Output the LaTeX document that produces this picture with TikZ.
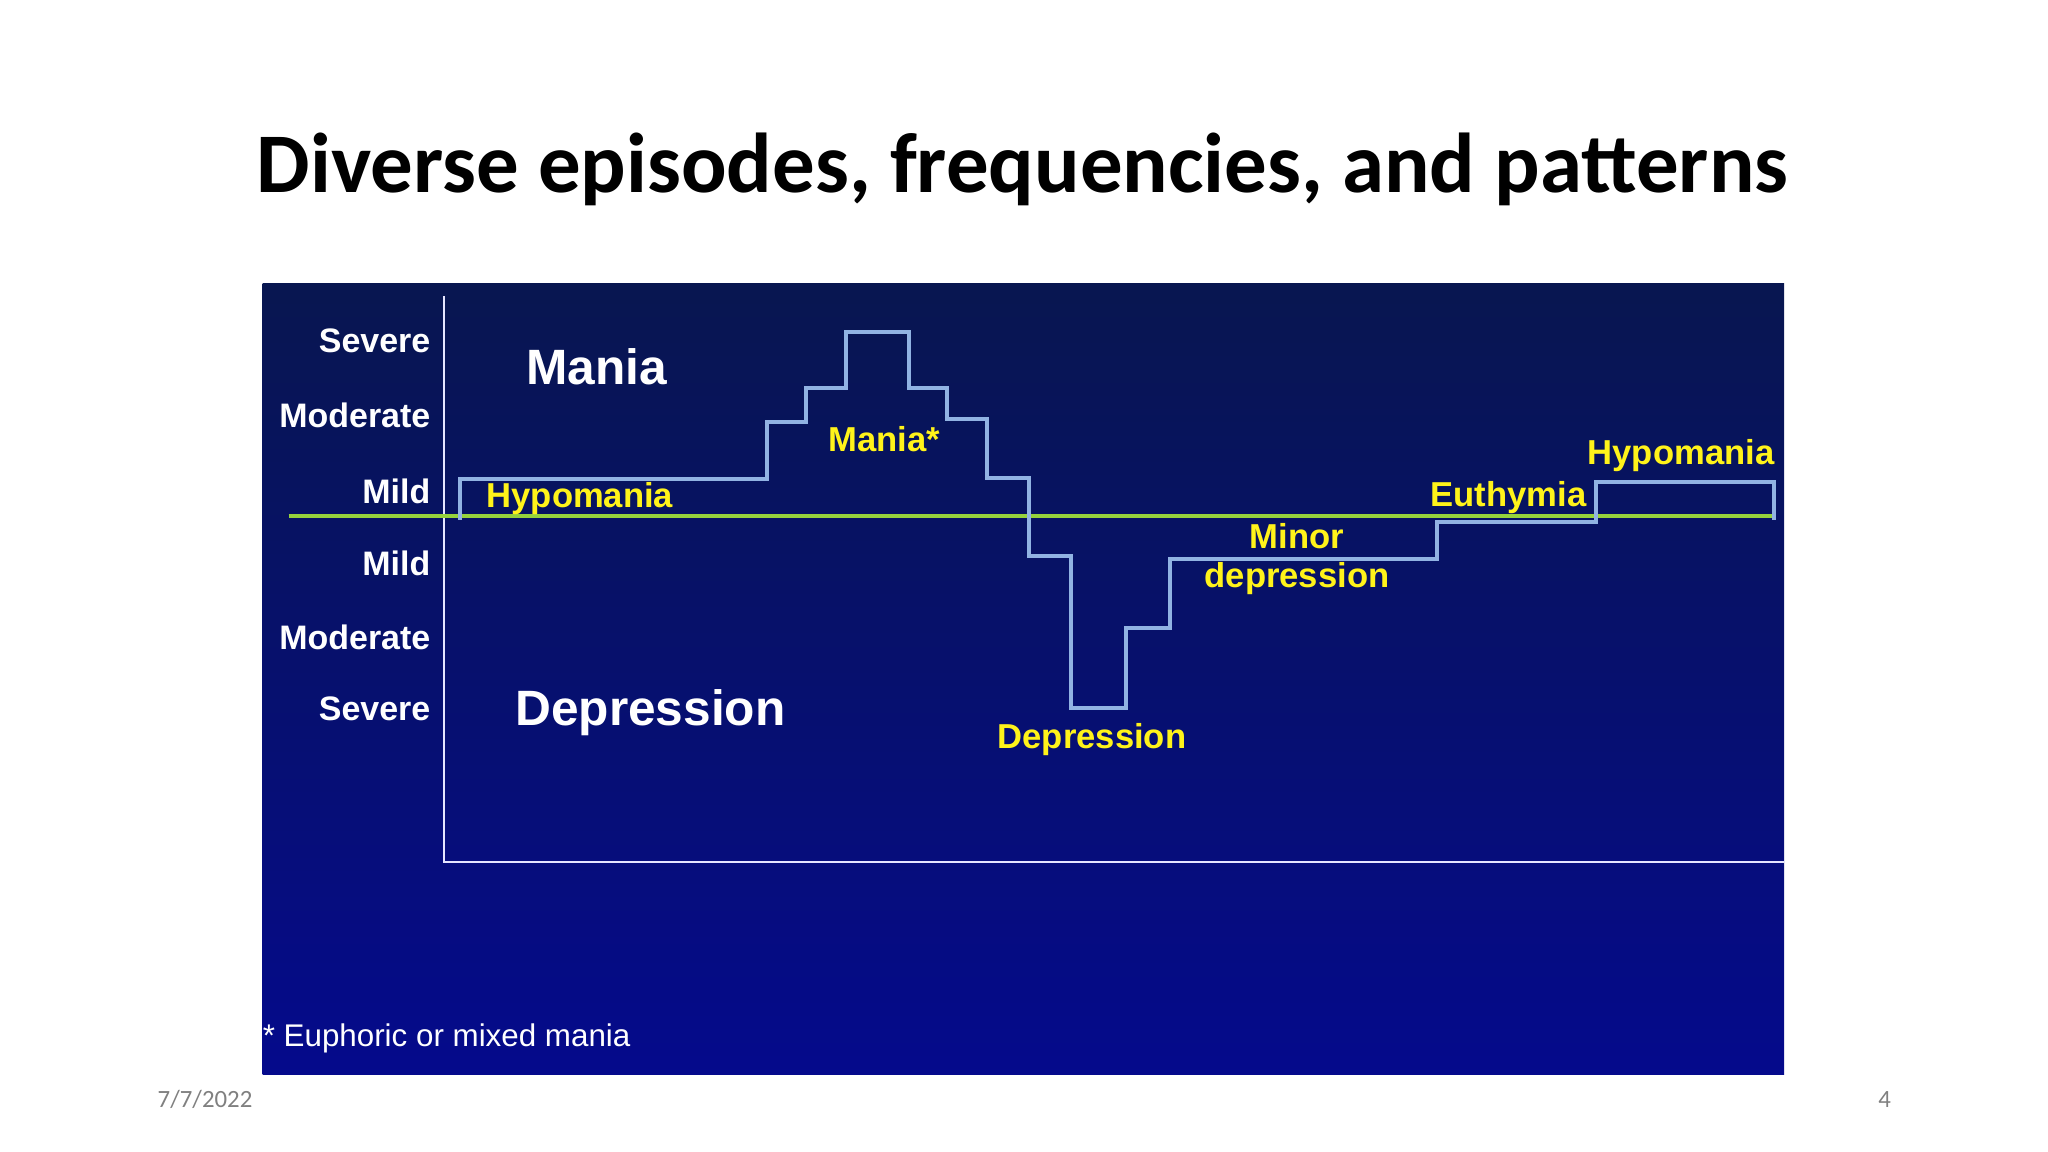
\documentclass[tikz,border=0pt]{standalone}
\usepackage{fontspec}
\setmainfont{Carlito}
\newfontfamily\arl{Liberation Sans}
\begin{document}
\begin{tikzpicture}[x=1pt,y=-1pt,
  ylab/.style={anchor=east,text=white,font=\arl\bfseries\fontsize{26}{26}\selectfont},
  big/.style={text=white,font=\arl\bfseries\fontsize{38}{38}\selectfont},
  ylw/.style={text=yellow!90!white,font=\arl\bfseries\fontsize{26.5}{26.5}\selectfont,inner sep=0pt},
  trace/.style={draw=cyan!30!white!80!blue,line width=3pt},
  ax/.style={draw=white!90!blue,line width=2pt}]
\useasboundingbox (0,0) rectangle (1568,882);
\node (title) at (783,130) {\fontsize{65}{65}\selectfont\bfseries Diverse episodes, frequencies, and patterns};
\shade[top color={rgb,255:red,8;green,22;blue,80}, bottom color={rgb,255:red,5;green,10;blue,140}] (201,217) rectangle (1366,823);
\draw[ax] (340,227) -- (340,660) -- (1366,660);
\draw[draw={rgb,255:red,150;green,210;blue,60},line width=2.5pt] (221,395) -- (1358,395);
\draw[trace,line join=miter] (352,398) -- (352,367) -- (587,367) -- (587,323) -- (617,323) -- (617,297) -- (648,297) -- (648,254) -- (696,254) -- (696,297) -- (725,297) -- (725,321) -- (756,321) -- (756,366) -- (788,366) -- (788,426) -- (820,426) -- (820,542) -- (862,542) -- (862,481) -- (896,481) -- (896,428) -- (1100,428) -- (1100,400) -- (1222,400) -- (1222,369) -- (1358,369) -- (1358,398);
\node[ylab] (s1) at (333,261) {Severe};
\node[ylab] (m1) at (333,318) {Moderate};
\node[ylab] (d1) at (333,376) {Mild};
\node[ylab] (d2) at (333,431) {Mild};
\node[ylab] (m2) at (333,488) {Moderate};
\node[ylab] (s2) at (333,543) {Severe};
\node[big] (mania) at (457,281) {Mania};
\node[big] (dep) at (498,546) {Depression};
\node[ylw] (hypo1) at (444,382) {Hypomania};
\node[ylw] (maniaS) at (677,336) {Mania*};
\node[ylw,align=center] (minor) at (993,428) {Minor\\[3pt]depression};
\node[ylw] (dep2) at (836,566) {Depression};
\node[ylw] (euth) at (1155,381) {Euthymia};
\node[ylw] (hypo2) at (1287,349) {Hypomania};
\node[anchor=west,text=white,font=\arl\fontsize{24}{24}\selectfont,inner sep=0pt] (foot) at (201,795) {* Euphoric or mixed mania};
\node[text=gray,font=\fontsize{19}{19}\selectfont] (date) at (157,842) {7/7/2022};
\node[text=gray,font=\fontsize{19}{19}\selectfont] (pg) at (1443,842) {4};
\end{tikzpicture}
\end{document}
